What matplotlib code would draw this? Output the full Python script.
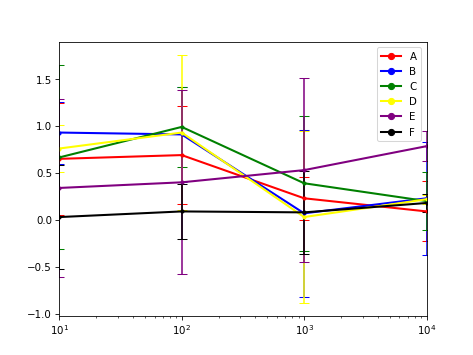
import numpy as np
import matplotlib
matplotlib.use("Agg")
from matplotlib import pyplot as plt

x = [10, 100, 1000, 10000]

labels = ["A", "B", "C", "D", "E", "F"]
colors = ["red", "blue", "green", "yellow", "purple", "black"]

a_y = [0.65, 0.69, 0.23, 0.09]
a_err = [0.60, 0.52, 0.23, 0.32]
b_y = [0.93, 0.91, 0.07, 0.23]
b_err = [0.33, 0.51, 0.89, 0.60]
c_y = [0.665, 0.99, 0.39, 0.20]
c_err = [0.98, 0.43, 0.72, 0.31]
d_y = [0.76, 0.93, 0.03, 0.22]
d_err = [0.25, 0.83, 0.92, 0.05]
e_y = [0.34, 0.40, 0.53, 0.785]
e_err = [0.95, 0.98, 0.98, 0.16]
f_y = [0.03, 0.09, 0.08, 0.18]
f_err = [0.55, 0.29, 0.44, 0.10]

ys = [a_y, b_y, c_y, d_y, e_y, f_y]
errs = [a_err, b_err, c_err, d_err, e_err, f_err]

fig = plt.figure(figsize=(6.4, 4.8), dpi=74.06)
ax = fig.add_subplot(111)
handles = []
for i in range(len(labels)):
    eb = ax.errorbar(x, ys[i], yerr=errs[i], color=colors[i], marker="o", markersize=3,
                     linewidth=2, elinewidth=1.5, capsize=5, label=labels[i])
    handles.append(eb[0])
ax.set_xscale("log")
ax.set_xlim(10, 10000)
ax.legend(handles=handles, labels=labels, loc="upper right", markerscale=2)
fig.savefig("out.png", dpi=74.06)
